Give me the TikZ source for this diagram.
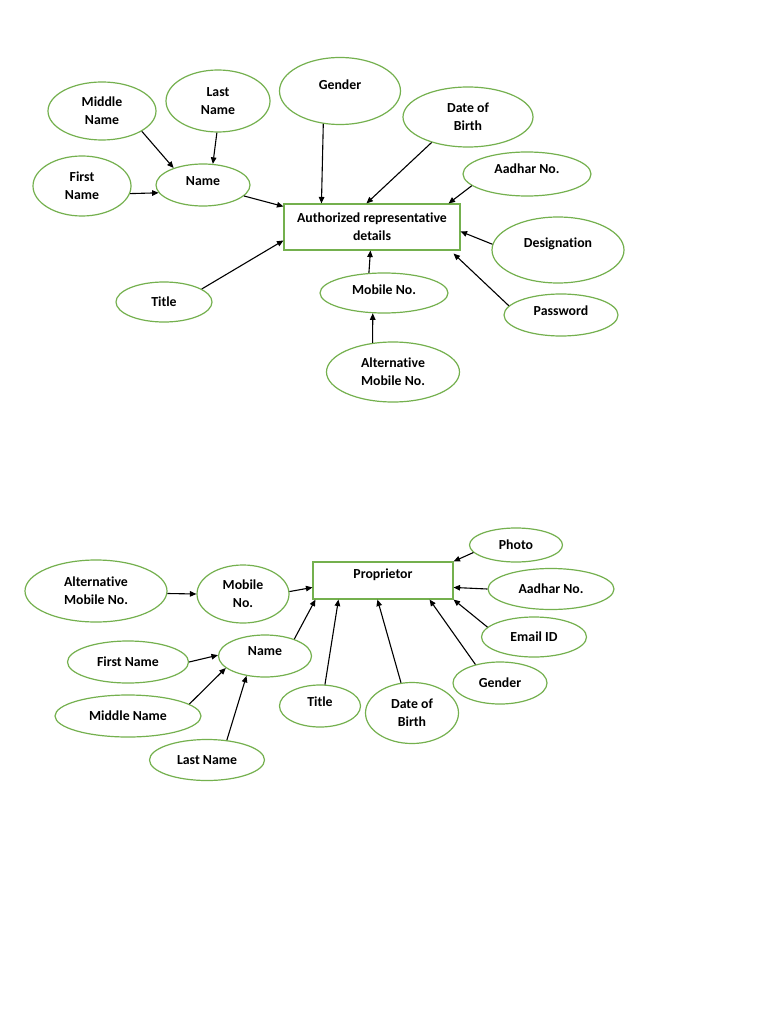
\documentclass[tikz,border=0pt]{standalone}
\usepackage{fontspec}
\setmainfont{Carlito}[Ligatures=NoCommon]
\usetikzlibrary{shapes.geometric,arrows.meta,calc}
\definecolor{egreen}{RGB}{116,176,78}
\begin{document}
\begin{tikzpicture}[x=1pt,y=-1pt,
  lbl/.style={font=\bfseries\fontsize{13.8}{18}\selectfont},
  attr/.style={lbl,ellipse,draw=egreen,line width=1.2pt,inner sep=0pt,align=center},
  ent/.style={lbl,rectangle,draw=egreen,line width=1.1pt,inner sep=0pt,align=center},
  arr/.style={-{Triangle[length=6.5pt,width=5.5pt]},line width=1.1pt,black}]
\useasboundingbox[fill=white] (0,0) rectangle (768,1024);
% ---------- top diagram ----------
\node[ent,minimum width=176pt,minimum height=46pt] (ar) at (372,227) {Authorized representative\\details};
\node[attr,minimum width=108pt,minimum height=58pt] (mn) at (102,111) {Middle\\Name};
\node[attr,minimum width=104pt,minimum height=62pt] (ln) at (218,101) {Last\\Name};
\node[attr,minimum width=98pt,minimum height=60pt] (fn) at (82,186) {First\\Name};
\node[attr,minimum width=94pt,minimum height=42pt,text depth=8pt] (nm) at (203,185) {Name};
\node[attr,minimum width=96pt,minimum height=40pt] (ti) at (164,302) {Title};
\node[attr,minimum width=121pt,minimum height=67pt,text depth=12pt] (ge) at (340,91) {Gender};
\node[attr,minimum width=130pt,minimum height=60pt] (db) at (468,117) {Date of\\Birth};
\node[attr,minimum width=128pt,minimum height=44pt,text depth=10pt] (aa) at (527,174) {Aadhar No.};
\node[attr,minimum width=132pt,minimum height=66pt,text depth=14pt] (de) at (558,250) {Designation};
\node[attr,minimum width=114pt,minimum height=42pt,text depth=9pt] (pw) at (561,315) {Password};
\node[attr,minimum width=128pt,minimum height=40pt,text depth=7pt] (mo) at (384,293) {Mobile No.};
\node[attr,minimum width=133pt,minimum height=60pt] (am) at (393,372) {Alternative\\Mobile No.};
\draw[arr] (mn.-27) -- (nm.150);
\draw[arr] (ln.-92) -- (nm.65);
\draw[arr] (fn.-9) -- (nm.190);
\draw[arr] (nm.-15) -- ($(ar.north west)+(0,3)$);
\draw[arr] (ti.19) -- ($(ar.north west)+(0,37)$);
\draw[arr] (ge.243) -- ($(ar.north west)+(38,0)$);
\draw[arr] (db.215) -- ($(ar.north west)+(83,0)$);
\draw[arr] (aa.192) -- ($(ar.north east)+(-12,0)$);
\draw[arr] (de.175) -- ($(ar.north east)+(0,28)$);
\draw[arr] (pw.170) -- ($(ar.south east)+(-7,3)$);
\draw[arr] (mo.127) -- ($(ar.south west)+(87,0)$);
\draw[arr] (am.125) -- (mo.241);
% ---------- bottom diagram ----------
\node[ent,minimum width=140pt,minimum height=37pt,text depth=13pt] (pr) at (383,580.5) {Proprietor};
\node[attr,minimum width=142pt,minimum height=62pt] (bam) at (96,591) {Alternative\\Mobile No.};
\node[attr,minimum width=92pt,minimum height=58pt] (bmo) at (243,594) {Mobile\\No.};
\node[attr,minimum width=121pt,minimum height=42pt] (bfn) at (128,662) {First Name};
\node[attr,minimum width=93pt,minimum height=42pt,text depth=9pt] (bnm) at (265,656) {Name};
\node[attr,minimum width=146pt,minimum height=42pt] (bmn) at (128,716) {Middle Name};
\node[attr,minimum width=115pt,minimum height=41pt] (bln) at (207,760) {Last Name};
\node[attr,minimum width=81pt,minimum height=42pt,text depth=8pt] (bti) at (320,706) {Title};
\node[attr,minimum width=93pt,minimum height=61pt] (bdb) at (412,713) {Date of\\Birth};
\node[attr,minimum width=94pt,minimum height=42pt] (bge) at (500,683) {Gender};
\node[attr,minimum width=105pt,minimum height=40pt] (bem) at (534,637) {Email ID};
\node[attr,minimum width=126pt,minimum height=41pt] (baa) at (551,589) {Aadhar No.};
\node[attr,minimum width=93pt,minimum height=34pt] (bph) at (516,545) {Photo};
\draw[arr] (bam.-2) -- (bmo.180);
\draw[arr] (bmo.3) -- ($(pr.north west)+(0,26)$);
\draw[arr] (bnm.30) -- ($(pr.south west)+(3,0)$);
\draw[arr] (bfn.0) -- (bnm.179);
\draw[arr] (bmn.11) -- (bnm.197);
\draw[arr] (bln.45) -- (bnm.227);
\draw[arr] (bti.77) -- ($(pr.south west)+(26,0)$);
\draw[arr] (bdb.110) -- ($(pr.south west)+(65,0)$);
\draw[arr] (bge.143) -- ($(pr.south east)+(-24,0)$);
\draw[arr] (bem.168) -- (pr.south east);
\draw[arr] (baa.180) -- ($(pr.north east)+(0,26)$);
\draw[arr] (bph.190) -- (pr.north east);
\end{tikzpicture}
\end{document}
